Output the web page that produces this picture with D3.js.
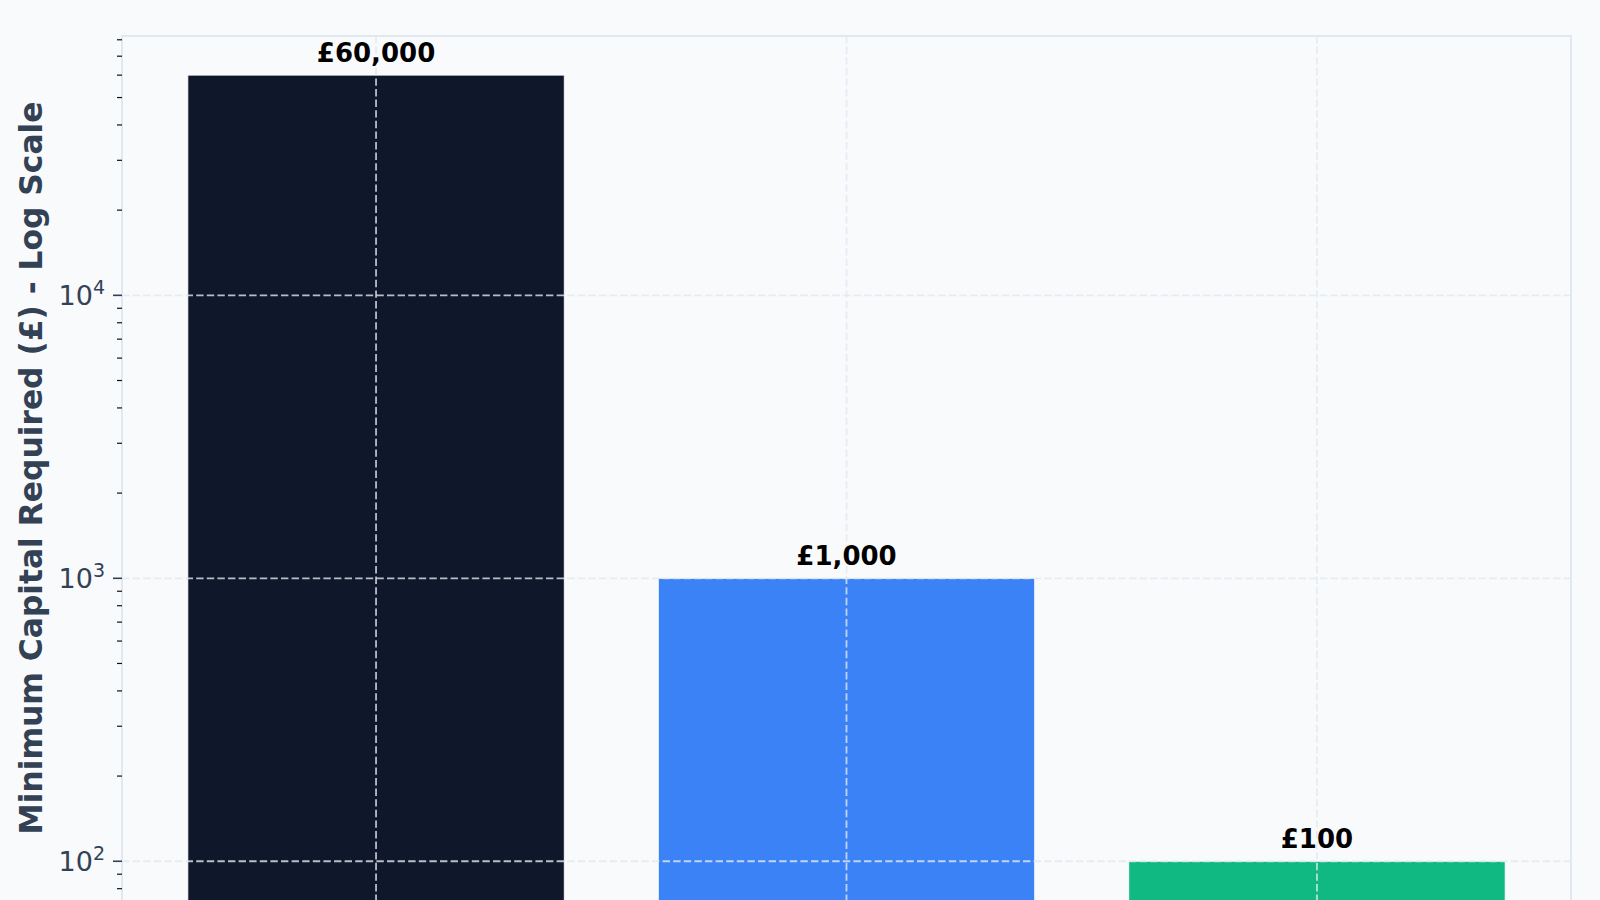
<!DOCTYPE html>
<html>
<head>
<meta charset="utf-8">
<script src="https://cdn.jsdelivr.net/npm/d3@7"></script>
<style>
  html, body { margin: 0; padding: 0; background: #f8fafc; }
  svg { display: block; font-family: "DejaVu Sans", sans-serif; }
</style>
</head>
<body>
<div id="chart"></div>
<script>
const categories = ["Tier 1", "Tier 2", "Tier 3"];
const values = [60000, 1000, 100];
const colors = ["#0f172a", "#3b82f6", "#10b981"];
const valueLabels = ["£60,000", "£1,000", "£100"];
const majorTicks = [100, 1000, 10000];
const majorExp = ["2", "3", "4"];

const width = 1600;
const height = 900;
const plot = { left: 122, right: 1571, top: 36, bottom: 920 };

const svg = d3.select("#chart").append("svg")
  .attr("width", width).attr("height", height);

svg.append("rect").attr("width", width).attr("height", height).attr("fill", "#f8fafc");

const x = d3.scaleLinear().domain([-0.54, categories.length - 1 + 0.54]).range([plot.left, plot.right]);
const y = d3.scaleLog().domain([62, 82500]).range([plot.bottom, plot.top]);
const barW = x(0.8) - x(0);

// bars
svg.append("g").selectAll("rect").data(values).join("rect")
  .attr("x", (d, i) => x(i) - barW / 2)
  .attr("width", barW)
  .attr("y", d => y(d))
  .attr("height", d => plot.bottom - y(d))
  .attr("fill", (d, i) => colors[i])
  .attr("stroke", "#ffffff").attr("stroke-width", 0.8);

// grid, drawn over the bars
const grid = svg.append("g")
  .attr("stroke", "#e2e8f0").attr("stroke-opacity", 0.8)
  .attr("stroke-width", 1.8).attr("stroke-dasharray", "7.4,3.2");
grid.selectAll(".gy").data(majorTicks).join("line")
  .attr("x1", plot.left).attr("x2", plot.right)
  .attr("y1", d => y(d)).attr("y2", d => y(d));
grid.selectAll(".gx").data(categories).join("line")
  .attr("x1", (d, i) => x(i)).attr("x2", (d, i) => x(i))
  .attr("y1", plot.top).attr("y2", plot.bottom);

// spines
svg.append("rect")
  .attr("x", plot.left).attr("y", plot.top)
  .attr("width", plot.right - plot.left).attr("height", plot.bottom - plot.top)
  .attr("fill", "none").attr("stroke", "#e2e8f0").attr("stroke-width", 2);

// minor ticks
const minor = [];
for (let e = 1; e <= 4; e++) for (let m = 2; m <= 9; m++) minor.push(m * Math.pow(10, e));
const [lo, hi] = y.domain();
svg.append("g").selectAll("line").data(minor.filter(d => d > lo && d < hi)).join("line")
  .attr("x1", plot.left - 5).attr("x2", plot.left)
  .attr("y1", d => y(d)).attr("y2", d => y(d))
  .attr("stroke", "#111111").attr("stroke-width", 1.2);

// major ticks + labels
const major = svg.append("g");
major.selectAll("line").data(majorTicks).join("line")
  .attr("x1", plot.left - 9).attr("x2", plot.left)
  .attr("y1", d => y(d)).attr("y2", d => y(d))
  .attr("stroke", "#334155").attr("stroke-width", 1.6);
const tl = major.selectAll("text").data(majorTicks).join("text")
  .attr("x", plot.left - 17).attr("y", d => y(d) + 10)
  .attr("text-anchor", "end").attr("fill", "#334155")
  .style("font-size", "27px");
tl.append("tspan").text("10");
tl.append("tspan").attr("dy", -11).style("font-size", "19px").text((d, i) => majorExp[i]);

// value labels
svg.append("g").selectAll("text").data(values).join("text")
  .attr("x", (d, i) => x(i)).attr("y", d => y(d) - 13)
  .attr("text-anchor", "middle").attr("fill", "#000")
  .style("font-size", "26px").style("font-weight", "bold")
  .text((d, i) => valueLabels[i]);

// y axis title
svg.append("text")
  .attr("transform", `translate(42,${(104 + 832) / 2}) rotate(-90)`)
  .attr("text-anchor", "middle").attr("fill", "#334155")
  .style("font-size", "31.3px").style("font-weight", "bold")
  .text("Minimum Capital Required (£) - Log Scale");
</script>
</body>
</html>
